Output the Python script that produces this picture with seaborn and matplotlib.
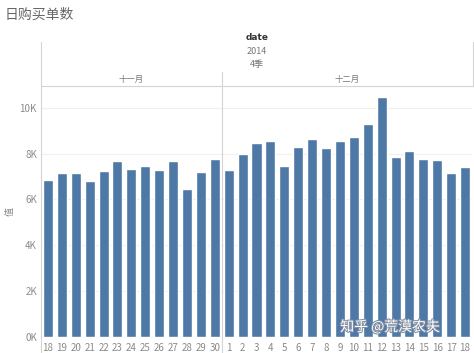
import matplotlib
matplotlib.use("Agg")
import matplotlib.pyplot as plt
from matplotlib.lines import Line2D
import matplotlib.patheffects as pe
import seaborn as sns
import pandas as pd

# ---- data ----
nov_days = [18, 19, 20, 21, 22, 23, 24, 25, 26, 27, 28, 29, 30]
nov_values = [6870, 7140, 7140, 6810, 7230, 7680, 7320, 7480, 7300, 7680, 6470, 7200, 7780]
dec_days = [1, 2, 3, 4, 5, 6, 7, 8, 9, 10, 11, 12, 13, 14, 15, 16, 17, 18]
dec_values = [7300, 8000, 8480, 8540, 7450, 8290, 8630, 8230, 8540, 8740, 9290, 10450,
              7840, 8120, 7750, 7720, 7140, 7420]
months = ["十一月", "十二月"]
y_ticks = [0, 2000, 4000, 6000, 8000, 10000]
y_ticklabels = ["0K", "2K", "4K", "6K", "8K", "10K"]

keys = [f"11-{d}" for d in nov_days] + [f"12-{d}" for d in dec_days]
day_labels = [str(d) for d in nov_days] + [str(d) for d in dec_days]
df = pd.DataFrame({"key": keys, "value": nov_values + dec_values})

sns.set_theme(style="white")
plt.rcParams["font.family"] = ["Noto Sans CJK SC", "DejaVu Sans"]

W, H = 474, 353
fig = plt.figure(figsize=(W / 100, H / 100), dpi=100)
fig.patch.set_facecolor("white")

L, R, T, B = 41, 472, 86, 337
ax = fig.add_axes([L / W, 1 - B / H, (R - L) / W, (B - T) / H])

sns.barplot(data=df, x="key", y="value", color="#4e78a6", saturation=1,
            width=0.72, ax=ax, order=keys)

ax.set_ylim(0, 10950)
ax.set_xlim(-0.5, len(keys) - 0.5)
ax.set_yticks(y_ticks)
ax.set_yticklabels(y_ticklabels)
ax.set_xticks(range(len(keys)))
ax.set_xticklabels(day_labels)
ax.tick_params(axis="both", length=0, labelsize=7, colors="#8a8a8a", pad=3)
ax.tick_params(axis="x", pad=4)
ax.set_xlabel("")
ax.set_ylabel("")
for s in ax.spines.values():
    s.set_visible(False)
ax.grid(axis="y", color="#f0f0f0", linewidth=0.8)
ax.set_axisbelow(True)

def fx(px):
    return px / W

def fy(py):
    return 1 - py / H

line_kw = dict(color="#d4d4d4", linewidth=0.8, transform=fig.transFigure)
# left border
fig.add_artist(Line2D([fx(41), fx(41)], [fy(42), fy(353)], **line_kw))
# right border in header
fig.add_artist(Line2D([fx(473), fx(473)], [fy(42), fy(86)], **line_kw))
# month separator
fig.add_artist(Line2D([fx(222), fx(222)], [fy(72), fy(353)], **line_kw))
# header bottom line
fig.add_artist(Line2D([fx(41), fx(473)], [fy(86), fy(86)], **line_kw))

# title
fig.text(fx(5), fy(15), "日购买单数", fontsize=10, color="#666666", ha="left", va="center")
# header
fig.text(fx(257), fy(37), "date", fontsize=6.5, color="#333333", fontweight="bold",
         ha="center", va="center", family="DejaVu Sans")
fig.text(fx(257), fy(51), "2014", fontsize=6.5, color="#777777", ha="center", va="center")
fig.text(fx(257), fy(64), "4季", fontsize=6.5, color="#777777", ha="center", va="center")
fig.text(fx(131), fy(79), months[0], fontsize=6, color="#777777", ha="center", va="center")
fig.text(fx(347), fy(79), months[1], fontsize=6, color="#777777", ha="center", va="center")
# y label
fig.text(fx(10), fy(211), "值", fontsize=6.5, color="#888888", rotation=90,
         ha="center", va="center")
# watermark
fig.text(fx(390), fy(327), "知乎 @荒漠农夫", fontsize=10, color="white",
         ha="center", va="center",
         path_effects=[pe.withStroke(linewidth=1.5, foreground="#7f8ea3")])

fig.savefig("out.png", dpi=100, facecolor="white")
